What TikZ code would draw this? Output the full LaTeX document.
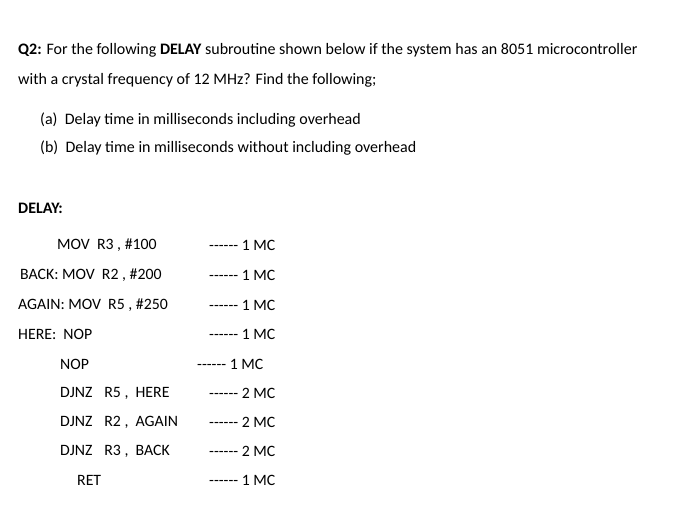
\documentclass[tikz,border=0pt]{standalone}
\usepackage{fontspec}
\setmainfont{Carlito}
\newcommand{\dsh}{-{}-{}-{}-{}-{}-}
\begin{document}
\begin{tikzpicture}[x=1pt,y=-1pt,
  txt/.style={anchor=west,inner sep=0pt,font=\fontsize{16}{18}\selectfont},
  code/.style={anchor=west,inner sep=0pt,font=\fontsize{15.8}{18}\selectfont}]
\useasboundingbox[fill=white] (0,0) rectangle (700,525);
\node[txt] (q1) at (18,50) {\textbf{Q2:} For the following \textbf{DELAY} subroutine shown below if the system has an 8051 microcontroller};
\node[txt] (q2) at (18,80) {with a crystal frequency of 12 MHz? Find the following;};
\node[txt] (a) at (40,120) {(a)\ \ Delay time in milliseconds including overhead};
\node[txt] (b) at (40,148) {(b)\ \ Delay time in milliseconds without including overhead};
\node[txt] (dl) at (18,208) {\textbf{DELAY:}};
\node[code] (l1) at (57,245) {MOV\ \ R3 , \#100};
\node[code] (l2) at (20,275) {BACK: MOV\ \ R2 , \#200};
\node[code] (l3) at (18,305) {AGAIN: MOV\ \ R5 , \#250};
\node[code] (l4) at (18,334) {HERE:\ \ NOP};
\node[code] (l5) at (60,364) {NOP};
\node[code] (l6) at (60,393) {DJNZ\hspace{12pt}R5 ,\ \ HERE};
\node[code] (l7) at (60,422) {DJNZ\hspace{12pt}R2 ,\ \ AGAIN};
\node[code] (l8) at (60,451) {DJNZ\hspace{12pt}R3 ,\ \ BACK};
\node[code] (l9) at (77,480) {RET};
\node[code] (c1) at (209,245) {\dsh\ 1 MC};
\node[code] (c2) at (209,275) {\dsh\ 1 MC};
\node[code] (c3) at (209,305) {\dsh\ 1 MC};
\node[code] (c4) at (209,334) {\dsh\ 1 MC};
\node[code] (c5) at (197,364) {\dsh\ 1 MC};
\node[code] (c6) at (209,393) {\dsh\ 2 MC};
\node[code] (c7) at (209,422) {\dsh\ 2 MC};
\node[code] (c8) at (209,451) {\dsh\ 2 MC};
\node[code] (c9) at (209,480) {\dsh\ 1 MC};
\end{tikzpicture}
\end{document}
